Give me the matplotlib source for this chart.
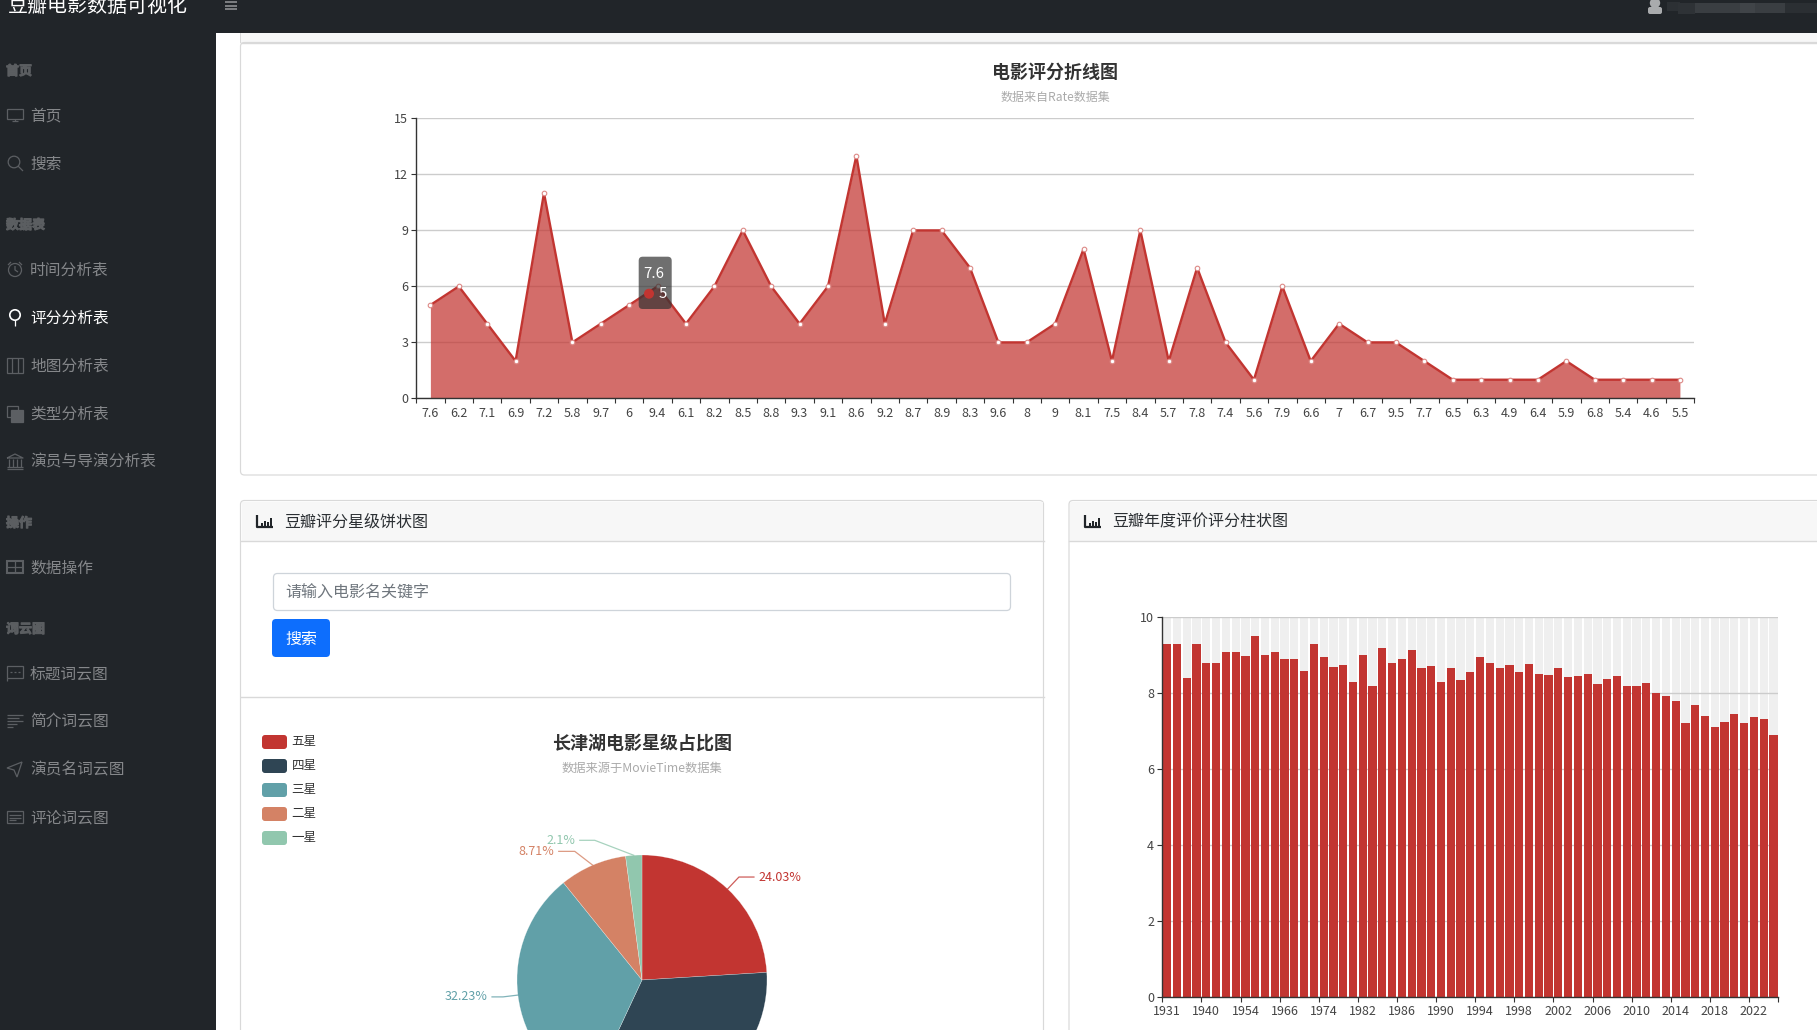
import matplotlib
matplotlib.use("Agg")
import numpy as np
import matplotlib.pyplot as plt
import matplotlib.patheffects as pe
from matplotlib.patches import Rectangle, FancyBboxPatch, Circle, Polygon

plt.rcParams['font.family'] = ['Noto Sans CJK SC', 'DejaVu Sans']

W, H = 1817, 1030
PX = 0.72  # points per pixel at dpi 100

# ---- data ----
rating_labels = ["7.6","6.2","7.1","6.9","7.2","5.8","9.7","6","9.4","6.1","8.2","8.5","8.8","9.3","9.1",
                 "8.6","9.2","8.7","8.9","8.3","9.6","8","9","8.1","7.5","8.4","5.7","7.8","7.4","5.6",
                 "7.9","6.6","7","6.7","9.5","7.7","6.5","6.3","4.9","6.4","5.9","6.8","5.4","4.6","5.5"]
rating_counts = [5,6,4,2,11,3,4,5,6,4,6,9,6,4,6,13,4,9,9,7,3,3,4,8,2,9,2,7,3,1,6,2,4,3,3,2,1,1,1,1,2,1,1,1,1]
rating_yticks = [0,3,6,9,12,15]

year_tick_labels = ["1931","1940","1954","1966","1974","1982","1986","1990","1994","1998","2002","2006","2010","2014","2018","2022"]
year_scores = [9.3,9.3,8.4,9.3,8.8,8.8,9.1,9.1,8.97,9.5,9.0,9.1,8.9,8.9,8.6,9.3,8.95,8.7,8.75,8.3,9.0,8.2,9.2,8.8,8.9,9.13,
               8.68,8.72,8.3,8.67,8.35,8.56,8.95,8.79,8.68,8.75,8.57,8.78,8.52,8.48,8.66,8.44,8.45,8.51,8.25,8.37,8.46,
               8.18,8.2,8.27,8.02,7.93,7.81,7.22,7.69,7.39,7.11,7.25,7.46,7.21,7.37,7.33,6.9]
year_yticks = [0,2,4,6,8,10]

star_names = ["五星","四星","三星","二星","一星"]
star_pcts = [24.03,32.93,32.23,8.71,2.1]
star_colors = ["#c23531","#2f4554","#61a0a8","#d48265","#91c7ae"]

menu_sections = [("首页",71),("数据表",225),("操作",523),("词云图",629)]
menu_items = [("首页",116,"monitor"),("搜索",164,"search"),("时间分析表",270,"clock"),("评分分析表",318,"pin"),
              ("地图分析表",366,"map"),("类型分析表",414,"copy"),("演员与导演分析表",462,"bank"),
              ("数据操作",568,"table"),("标题词云图",674,"chat"),("简介词云图",722,"lines"),
              ("演员名词云图",770,"send"),("评论词云图",818,"text")]

fig = plt.figure(figsize=(W/100, H/100), dpi=100, facecolor="white")

def axes_px(x0, y0, x1, y1, z=1):
    return fig.add_axes([x0/W, 1-y1/H, (x1-x0)/W, (y1-y0)/H], zorder=z)

ui = axes_px(0, 0, W, H, 0)
ui.set_xlim(0, W); ui.set_ylim(H, 0); ui.axis("off")
top = axes_px(0, 0, W, H, 10)
top.set_xlim(0, W); top.set_ylim(H, 0); top.axis("off"); top.patch.set_alpha(0)

DARK = "#212529"
BORDER = "#d9d9d9"
HEAD = "#f7f7f7"

# ---- frame ----
ui.add_patch(Rectangle((0,0),216,H,fc=DARK,ec="none"))
ui.add_patch(Rectangle((0,0),W,33,fc=DARK,ec="none"))

def card(x0,y0,x1,y1):
    ui.add_patch(FancyBboxPatch((x0+4,y0+4),x1-x0-8,y1-y0-8,boxstyle="round,pad=4,rounding_size=4",
                                fc="white",ec=BORDER,lw=1*PX*1.2))

# top card
ui.add_patch(Rectangle((240.5,33),W,9.5,fc=HEAD,ec="none"))
card(240.5,42.5,W+40,475)
ui.plot([240.5,W],[42.5,42.5],color=BORDER,lw=1)
ui.add_patch(Rectangle((240,33),1,10,fc=BORDER,ec="none"))

# bottom cards
for x0,x1,title,tx,ix in [(240.5,1043.5,"豆瓣评分星级饼状图",284.5,257),(1069,W+40,"豆瓣年度评价评分柱状图",1112.5,1085)]:
    card(x0,500.5,x1,H+40)
    ui.add_patch(Rectangle((x0+1,502),min(x1,W+2)-x0-2,39,fc=HEAD,ec="none"))
    ui.plot([x0,min(x1,W)],[541.2,541.2],color=BORDER,lw=1)
    ui.text(tx,522,title,fontsize=16*PX,color="#2b2f33",va="center",ha="left")
    # bar-chart glyph
    ui.plot([ix,ix,ix+16],[515,527,527],color=DARK,lw=1.6,solid_capstyle="butt")
    for dx,h in zip((3.5,6.5,9.5,12.5),(3,5,3.5,8)):
        ui.add_patch(Rectangle((ix+dx,525.5-h),2,h,fc=DARK,ec="none"))

ui.plot([240.5,1043.5],[697,697],color=BORDER,lw=1)
# search box
ui.add_patch(FancyBboxPatch((276.5,576.5),731,31,boxstyle="round,pad=3,rounding_size=4",fc="white",ec="#ced4da",lw=0.9))
ui.text(285.5,593,"请输入电影名关键字",fontsize=16*PX,color="#6f767d",va="center",ha="left")
ui.add_patch(FancyBboxPatch((275,622),52,32,boxstyle="round,pad=3,rounding_size=4",fc="#0d6efd",ec="none"))
ui.text(301,639,"搜索",fontsize=16*PX,color="white",va="center",ha="center")

# ---- header ----
ui.text(8,6,"豆瓣电影数据可视化",fontsize=20*PX,color="white",va="center",ha="left",clip_on=True)
for y in (2,5.5,9):
    ui.add_patch(Rectangle((225,y-1),12,2,fc="#7a7c7f",ec="none"))
# user glyph and blurred name
ui.add_patch(Circle((1655,3),5.2,fc="#a9abad",ec="none"))
ui.add_patch(FancyBboxPatch((1650,9),10,3,boxstyle="round,pad=2,rounding_size=2",fc="#a9abad",ec="none"))
for x0,x1,y0,y1,c in [(1667,1680,2,11,"#2c3034"),(1678,1695,3,14,"#2e3236"),(1695,1785,3,13,"#3a3e42"),
                      (1740,1755,3,13,"#404448"),(1785,1817,3,13,"#2b2f33")]:
    ui.add_patch(Rectangle((x0,y0),x1-x0,y1-y0,fc=c,ec="none"))

# ---- sidebar ----
ICON = "#5c5f63"
def icon(kind, y, cx=15, c=ICON):
    lw = 0.9
    def R(x,yy,w,h,fill=False):
        ui.add_patch(Rectangle((x,yy),w,h,fc=c if fill else "none",ec=c,lw=lw))
    def L(xs,ys):
        ui.plot(xs,ys,color=c,lw=lw,solid_capstyle="butt")
    if kind=="monitor":
        R(cx-8,y-6,16,10); L([cx-3,cx+3],[y+6,y+6]); L([cx,cx],[y+4,y+6])
    elif kind=="search":
        ui.add_patch(Circle((cx-1,y-1),5.8,fc="none",ec=c,lw=lw)); L([cx+3,cx+8],[y+3,y+8])
    elif kind=="clock":
        ui.add_patch(Circle((cx,y+1),6.5,fc="none",ec=c,lw=lw)); L([cx,cx,cx+3],[y-3,y+1,y+3])
        L([cx-7,cx-4],[y-4,y-7]); L([cx+7,cx+4],[y-4,y-7])
    elif kind=="pin":
        ui.add_patch(Circle((cx,y-2),5.2,fc="none",ec=c,lw=lw+0.3)); L([cx,cx],[y+3,y+9])
    elif kind=="map":
        R(cx-8,y-7,16,15); L([cx-2.7,cx-2.7],[y-7,y+8]); L([cx+2.7,cx+2.7],[y-7,y+8])
    elif kind=="copy":
        R(cx-8,y-7,11,11); R(cx-4,y-3,12,12,True)
    elif kind=="bank":
        L([cx-8,cx,cx+8,cx-8],[y-3,y-7,y-3,y-3]); L([cx-8,cx+8],[y+8,y+8]); L([cx-8,cx+8],[y+6,y+6])
        for d in (-6,-2,2,6): L([cx+d,cx+d],[y-2,y+6])
    elif kind=="table":
        ui.add_patch(Rectangle((cx-8,y-6),16,12,fc="none",ec=c,lw=1.5)); L([cx,cx],[y-6,y+6]); L([cx-8,cx+8],[y,y])
    elif kind=="chat":
        R(cx-8,y-7,16,12); L([cx-8,cx-8],[y+5,y+8])
        for d in (-4,0,4): L([cx+d-.7,cx+d+.7],[y-1,y-1])
    elif kind=="lines":
        for d,w in zip((-6,-3,0,3,6),(16,12,16,10,6)): L([cx-8,cx-8+w],[y+d,y+d])
    elif kind=="send":
        ui.add_patch(Polygon([(cx-8,y-1),(cx+7,y-7),(cx+2,y+8),(cx-1,y+1)],fc="none",ec=c,lw=lw))
    elif kind=="text":
        R(cx-8,y-6,16,12)
        for d,w in zip((-2.5,0.5,3),(12,12,7)): L([cx-6,cx-6+w],[y+d,y+d])

for name,y in menu_sections:
    ui.text(6,y,name,fontsize=13*PX,color="#5b5e61",va="center",ha="left",fontweight="bold",
            path_effects=[pe.withStroke(linewidth=0.7,foreground="#5b5e61")])
for name,y,kind in menu_items:
    active = name=="评分分析表"
    ui.text(30,y,name,fontsize=15.7*PX,color="white" if active else "#85878a",va="center",ha="left")
    icon(kind,y-1,c="white" if active else ICON)

# ---- shared axis styling ----
AX = "#333333"
def style(ax):
    ax.patch.set_alpha(0)
    for s in ("top","right"):
        ax.spines[s].set_visible(False)
    for s in ("left","bottom"):
        ax.spines[s].set_color(AX); ax.spines[s].set_linewidth(1)
    ax.tick_params(axis="y",length=5*PX,width=0.8,color=AX,labelcolor="#444444",labelsize=12.5*PX,pad=2.2)
    ax.tick_params(axis="x",which="major",length=5*PX,width=0.8,color=AX,labelbottom=False)
    ax.tick_params(axis="x",which="minor",length=0,labelcolor="#444444",labelsize=12.5*PX,pad=6)

# ---- line chart ----
ax1 = axes_px(416.2,118.4,1694.1,398.4,2)
xc = np.arange(len(rating_counts))+0.5
ax1.set_xlim(0,len(rating_counts)); ax1.set_ylim(0,15)
ax1.set_yticks(rating_yticks)
ax1.set_xticks(np.arange(len(rating_counts)+1))
ax1.set_xticks(xc,minor=True); ax1.set_xticklabels(rating_labels,minor=True)
style(ax1)
ax1.grid(axis="y",color="#cccccc",lw=1,zorder=1)
ax1.set_axisbelow(True)
ax1.fill_between(xc,0,rating_counts,color="#c23531",alpha=0.72,lw=0,zorder=2)
ax1.plot(xc,rating_counts,color="#c23531",lw=1.7,zorder=3,marker="o",ms=3.3,mfc="white",mec="#dd8a87",mew=0.8,clip_on=False)

ui.text(1055,73,"电影评分折线图",fontsize=18*PX,color="#333333",fontweight="bold",ha="center",va="center")
ui.text(1055,97,"数据来自Rate数据集",fontsize=12*PX,color="#aaaaaa",ha="center",va="center")

# tooltip
top.add_patch(FancyBboxPatch((642.7,260.7),25,44.3,boxstyle="round,pad=4,rounding_size=4",
                             fc=(50/255,50/255,50/255,0.7),ec="none"))
top.text(654,274,rating_labels[0],fontsize=15*PX,color="white",ha="center",va="center")
top.add_patch(Circle((649,293.7),5,fc="#c23531",ec="none"))
top.text(663,294.5,str(rating_counts[0]),fontsize=15*PX,color="white",ha="center",va="center")

# ---- bar chart ----
ax2 = axes_px(1162.3,617.4,1778.3,997,2)
n = len(year_scores)
xb = np.arange(n)+0.5
ax2.set_xlim(0,n); ax2.set_ylim(0,10)
ax2.set_yticks(year_yticks)
ax2.set_xticks(list(range(0,n,4))+[n])
ax2.set_xticks(xb[::4],minor=True); ax2.set_xticklabels(year_tick_labels,minor=True)
style(ax2)
ax2.bar(xb,[10]*n,width=0.84,color="#efefef",zorder=1)
ax2.grid(axis="y",color="#cccccc",lw=1)
ax2.set_axisbelow("line")
ax2.bar(xb,year_scores,width=0.84,color="#c23531",edgecolor="none",zorder=2)

# ---- pie ----
CX,CY,RAD = 642,980,125
ax3 = axes_px(CX-RAD,CY-RAD,CX+RAD,CY+RAD,2)
ax3.pie(star_pcts,colors=star_colors,startangle=90,counterclock=False,radius=1.0,
        wedgeprops=dict(linewidth=0.3,edgecolor="#ffffff88"))
ax3.set_xlim(-1,1); ax3.set_ylim(-1,1); ax3.set_aspect("equal"); ax3.patch.set_alpha(0)

ui.text(CX,744,"长津湖电影星级占比图",fontsize=18*PX,color="#333333",fontweight="bold",ha="center",va="center")
ui.text(CX,768.7,"数据来源于MovieTime数据集",fontsize=12.3*PX,color="#aaaaaa",ha="center",va="center")

for i,(name,c) in enumerate(zip(star_names,star_colors)):
    y = 735+24*i
    ui.add_patch(FancyBboxPatch((264,y+2),21,10,boxstyle="round,pad=2,rounding_size=3",fc=c,ec="none"))
    ui.text(291.5,y+6.5,name,fontsize=12.5*PX,color="#333333",ha="left",va="center")

# leader offsets (elbow shift relative to the automatic position, horizontal run)
elbow_shift = {0:(1,-1),1:(0,0),2:(0,0),3:(-12,0),4:(-38,0)}
run = [15,15,11,16,15]
cum = np.cumsum([0]+star_pcts)
for i,p in enumerate(star_pcts):
    a = np.deg2rad((cum[i]+cum[i+1])/2*3.6)
    sx,cy = np.sin(a),-np.cos(a)
    e0 = (CX+RAD*sx, CY+RAD*cy)
    dx,dy = elbow_shift[i]
    e1 = (CX+(RAD+15)*sx+dx, CY+(RAD+15)*cy+dy)
    d = 1 if sx>0 else -1
    e2 = (e1[0]+d*run[i], e1[1])
    if e2[1] > H:
        continue
    top.plot([e0[0],e1[0],e2[0]],[e0[1],e1[1],e2[1]],color=star_colors[i],lw=0.9,alpha=0.8)
    top.text(e2[0]+d*4.5,e2[1],f"{p}%",fontsize=12.5*PX,color=star_colors[i],
             ha="left" if d>0 else "right",va="center")

fig.savefig("out.png",dpi=100)
